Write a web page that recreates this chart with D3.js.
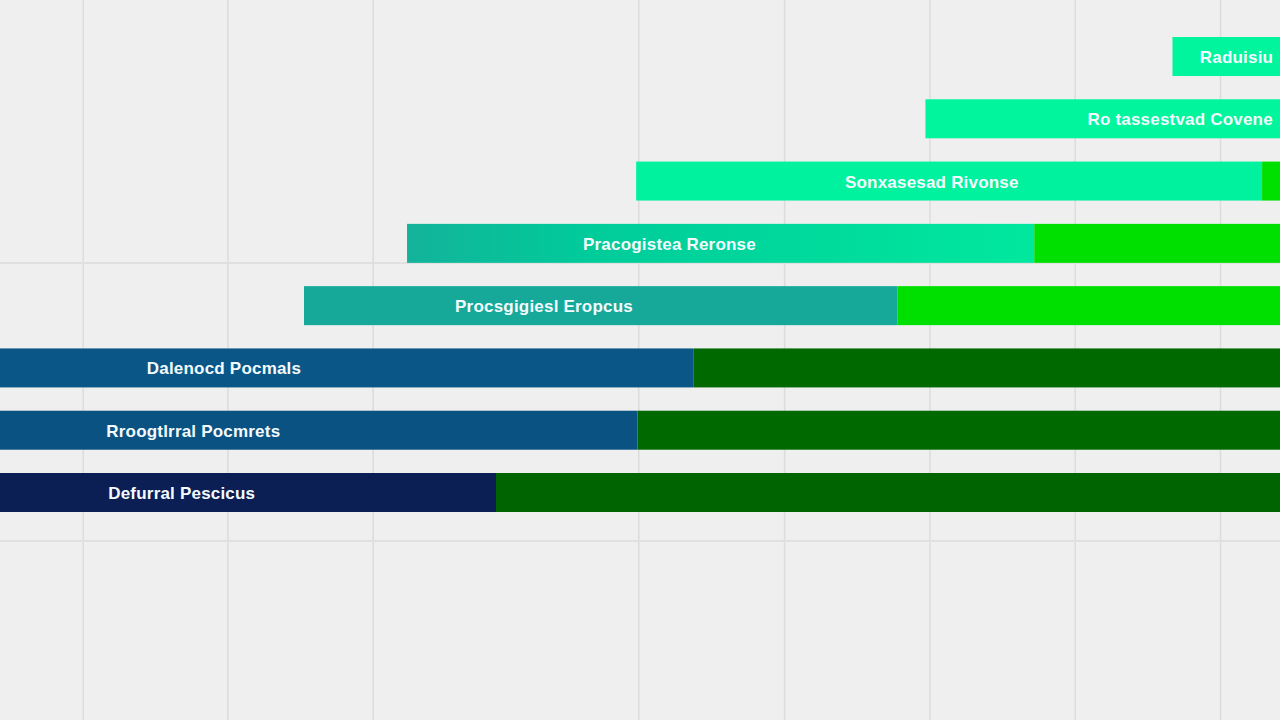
<!DOCTYPE html>
<html>
<head>
<meta charset="utf-8">
<script src="https://cdn.jsdelivr.net/npm/d3@7"></script>
<style>
html,body{margin:0;padding:0;background:#efefef;overflow:hidden;}
svg{display:block;}
</style>
</head>
<body>
<svg id="chart" width="1280" height="720"></svg>
<script>
// ---- data ----
const categories = [
  "Raduisiu",
  "Ro tassestvad Covene",
  "Sonxasesad Rivonse",
  "Pracogistea Reronse",
  "Procsgigiesl Eropcus",
  "Dalenocd Pocmals",
  "Rroogtlrral Pocmrets",
  "Defurral Pescicus"
];
const startValues = [91.6, 72.3, 49.7, 31.8, 23.75, 0, 0, 0];
const splitValues = [100, 100, 98.6, 80.8, 70.1, 54.2, 49.8, 38.75];
const endValues   = [100, 100, 100, 100, 100, 100, 100, 100];
const labelValues = [96.6, 92.2, 72.8, 52.3, 42.5, 17.5, 15.1, 14.2];
const gridValues  = [6.5, 17.8, 29.15, 49.9, 61.3, 72.65, 84.0, 95.35];
const hGridValues = [263, 541];
const firstColors  = ["#00f59c", "#00f59c", "#00f29e", "url(#gradTeal)", "#16a99a", "#0a5787", "#0a5282", "#0b1f55"];
const secondColors = ["#00e600", "#00e600", "#00e000", "#00e000", "#00e000", "#006a00", "#006a00", "#006400"];

// ---- chart ----
const W = 1280, H = 720;
const svg = d3.select("#chart");
const defs = svg.append("defs");
const g1 = defs.append("linearGradient").attr("id","gradTeal").attr("x1","0%").attr("x2","100%");
g1.append("stop").attr("offset","0%").attr("stop-color","#13b39a");
g1.append("stop").attr("offset","30%").attr("stop-color","#00cc9a");
g1.append("stop").attr("offset","100%").attr("stop-color","#00e89e");

const x = d3.scaleLinear().domain([0,100]).range([0,W]);
const y = d3.scaleBand().domain(categories).range([37, 512]).paddingInner(0.374).paddingOuter(0);
const yLin = d3.scaleLinear().domain([0,H]).range([0,H]);

svg.append("rect").attr("width",W).attr("height",H).attr("fill","#efefef");

// vertical grid
svg.append("g").selectAll("line").data(gridValues).join("line")
  .attr("x1",d=>x(d)).attr("x2",d=>x(d)).attr("y1",0).attr("y2",H)
  .attr("stroke","#dcdcdc").attr("stroke-width",1.5);
// horizontal grid
svg.append("g").selectAll("line").data(hGridValues).join("line")
  .attr("x1",0).attr("x2",W).attr("y1",d=>yLin(d)).attr("y2",d=>yLin(d))
  .attr("stroke","#e0e0e0").attr("stroke-width",2);

const rows = categories.map((c,i)=>({c, s:startValues[i], m:splitValues[i], e:endValues[i], l:labelValues[i], c1:firstColors[i], c2:secondColors[i]}));

const bars = svg.append("g");
bars.selectAll("rect.a").data(rows).join("rect").attr("class","a")
  .attr("x",d=>x(d.s)).attr("y",d=>y(d.c))
  .attr("width",d=>x(d.m)-x(d.s)).attr("height",y.bandwidth())
  .attr("fill",d=>d.c1);
bars.selectAll("rect.b").data(rows.filter(d=>d.e>d.m)).join("rect").attr("class","b")
  .attr("x",d=>x(d.m)).attr("y",d=>y(d.c))
  .attr("width",d=>x(d.e)-x(d.m)).attr("height",y.bandwidth())
  .attr("fill",d=>d.c2);

bars.selectAll("text").data(rows).join("text")
  .attr("x",d=>x(d.l)).attr("y",d=>y(d.c)+y.bandwidth()/2+1)
  .attr("text-anchor","middle").attr("dominant-baseline","central")
  .attr("fill","#f4fbff")
  .style("font-family","'Liberation Sans', Arial, sans-serif")
  .style("font-size","17px")
  .style("font-weight","bold")
  .style("letter-spacing","0.2px")
  .text(d=>d.c)
  .each(function(){
    const b = this.getBBox();
    if (b.x + b.width > W - 3) d3.select(this).attr("x", +d3.select(this).attr("x") - (b.x + b.width - (W - 3)));
  });
</script>
</body>
</html>
